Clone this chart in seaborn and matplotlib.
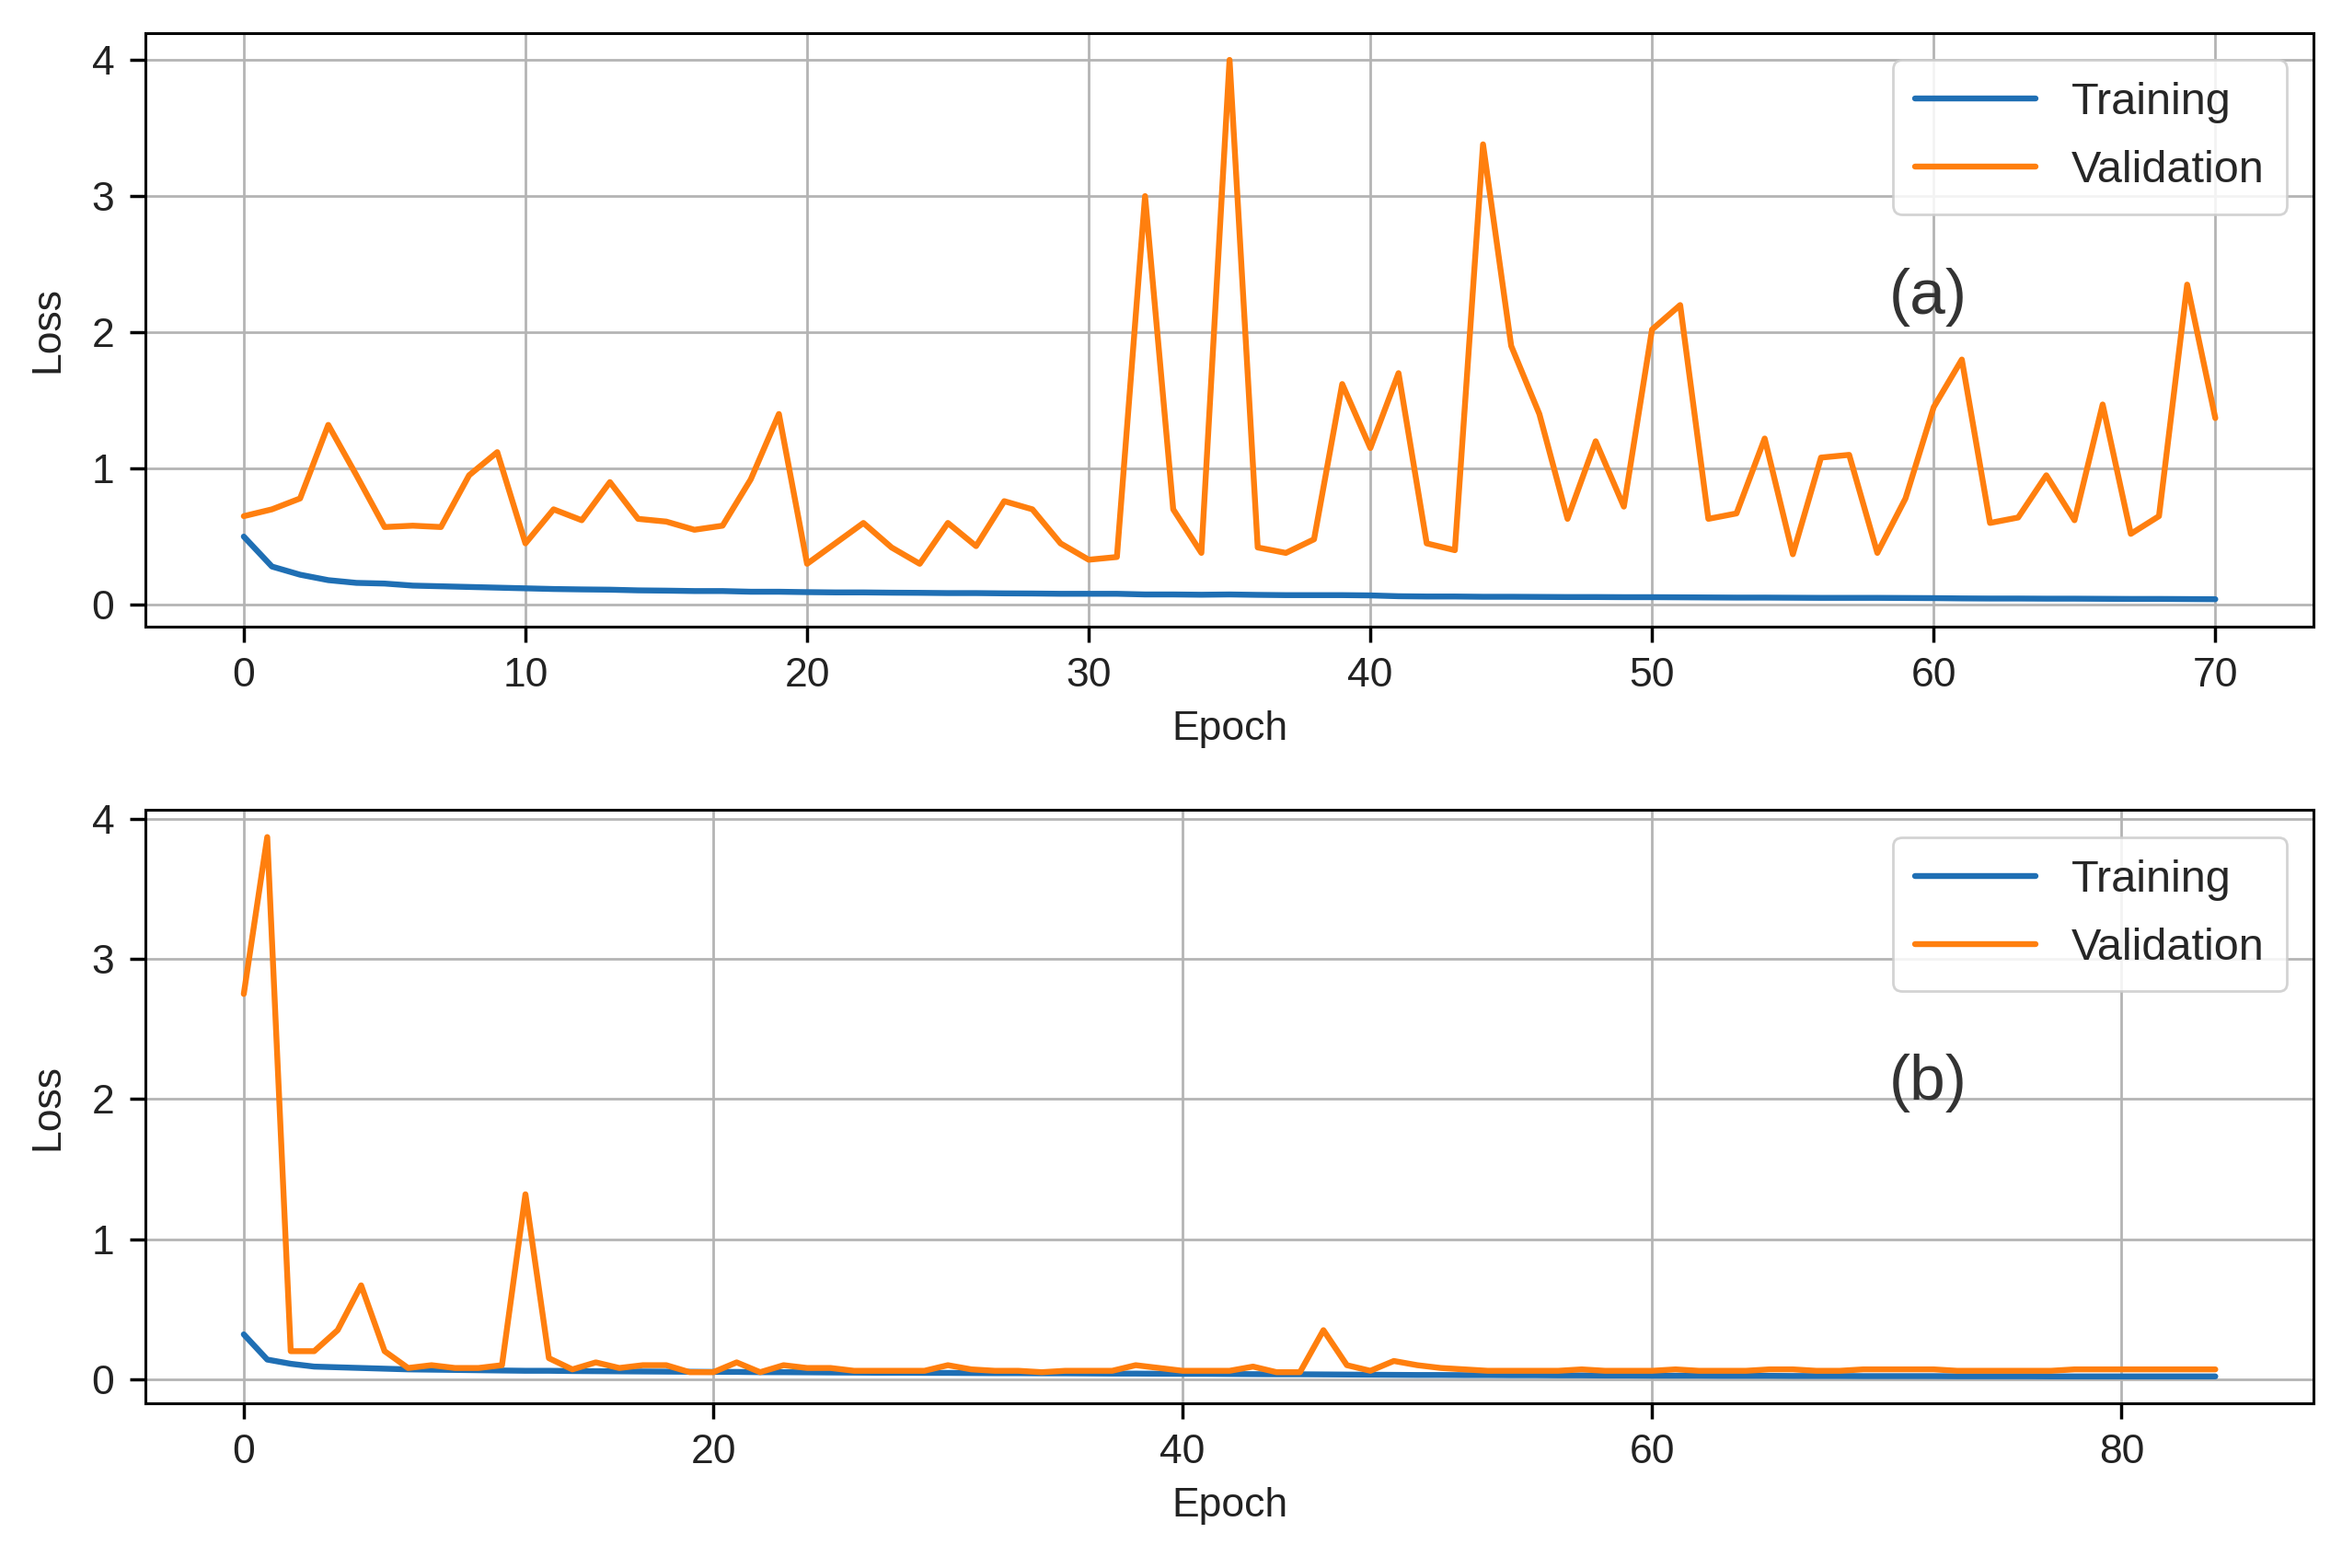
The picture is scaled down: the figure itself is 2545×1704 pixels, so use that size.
import numpy as np
import pandas as pd
import matplotlib
matplotlib.use("Agg")
import matplotlib.pyplot as plt
import seaborn as sns

# panel (a): 71 epochs
train_a = [0.50, 0.28, 0.22, 0.18, 0.16, 0.155, 0.14, 0.135, 0.13, 0.125,
           0.12, 0.115, 0.112, 0.11, 0.105, 0.103, 0.10, 0.10, 0.095, 0.095,
           0.092, 0.09, 0.09, 0.088, 0.087, 0.085, 0.085, 0.083, 0.082, 0.08,
           0.08, 0.08, 0.075, 0.075, 0.073, 0.075, 0.072, 0.07, 0.07, 0.07,
           0.068, 0.062, 0.06, 0.06, 0.058, 0.058, 0.057, 0.056, 0.056, 0.055,
           0.055, 0.054, 0.053, 0.052, 0.052, 0.051, 0.05, 0.05, 0.05, 0.049,
           0.048, 0.046, 0.045, 0.045, 0.044, 0.044, 0.043, 0.042, 0.042, 0.041,
           0.04]
val_a = [0.65, 0.70, 0.78, 1.32, 0.95, 0.57, 0.58, 0.57, 0.95, 1.12,
         0.45, 0.70, 0.62, 0.90, 0.63, 0.61, 0.55, 0.58, 0.92, 1.40,
         0.30, 0.45, 0.60, 0.42, 0.30, 0.60, 0.43, 0.76, 0.70, 0.45,
         0.33, 0.35, 3.00, 0.70, 0.38, 4.00, 0.42, 0.38, 0.48, 1.62,
         1.15, 1.70, 0.45, 0.40, 3.38, 1.90, 1.40, 0.63, 1.20, 0.72,
         2.02, 2.20, 0.63, 0.67, 1.22, 0.37, 1.08, 1.10, 0.38, 0.78,
         1.45, 1.80, 0.60, 0.64, 0.95, 0.62, 1.47, 0.52, 0.65, 2.35,
         1.37]

# panel (b): 85 epochs
train_b = [0.32, 0.14, 0.11, 0.09, 0.085, 0.08, 0.075, 0.07, 0.068, 0.066,
           0.064, 0.062, 0.06, 0.06, 0.058, 0.057, 0.056, 0.055, 0.054, 0.053,
           0.052, 0.052, 0.05, 0.05, 0.049, 0.048, 0.047, 0.046, 0.046, 0.045,
           0.045, 0.044, 0.043, 0.043, 0.042, 0.042, 0.041, 0.04, 0.04, 0.039,
           0.038, 0.038, 0.037, 0.036, 0.035, 0.035, 0.034, 0.033, 0.032, 0.031,
           0.03, 0.03, 0.029, 0.029, 0.028, 0.028, 0.027, 0.027, 0.026, 0.026,
           0.025, 0.025, 0.025, 0.024, 0.024, 0.024, 0.023, 0.023, 0.023, 0.022,
           0.022, 0.022, 0.022, 0.021, 0.021, 0.021, 0.021, 0.02, 0.02, 0.02,
           0.02, 0.02, 0.02, 0.02, 0.02]
val_b = [2.75, 3.87, 0.20, 0.20, 0.35, 0.67, 0.20, 0.08, 0.10, 0.08,
         0.08, 0.10, 1.32, 0.15, 0.07, 0.12, 0.08, 0.10, 0.10, 0.05,
         0.05, 0.12, 0.05, 0.10, 0.08, 0.08, 0.06, 0.06, 0.06, 0.06,
         0.10, 0.07, 0.06, 0.06, 0.05, 0.06, 0.06, 0.06, 0.10, 0.08,
         0.06, 0.06, 0.06, 0.09, 0.05, 0.05, 0.35, 0.10, 0.06, 0.13,
         0.10, 0.08, 0.07, 0.06, 0.06, 0.06, 0.06, 0.07, 0.06, 0.06,
         0.06, 0.07, 0.06, 0.06, 0.06, 0.07, 0.07, 0.06, 0.06, 0.07,
         0.07, 0.07, 0.07, 0.06, 0.06, 0.06, 0.06, 0.06, 0.07, 0.07,
         0.07, 0.07, 0.07, 0.07, 0.07]

PANELS = [("(a)", train_a, val_a), ("(b)", train_b, val_b)]


def long_form(train, val):
    epochs = np.arange(len(train))
    return pd.DataFrame({
        "Epoch": np.concatenate([epochs, epochs]),
        "Loss": np.concatenate([train, val]),
        "Series": ["Training"] * len(train) + ["Validation"] * len(val),
    })


sns.set_theme(style="ticks")
plt.rcParams["font.family"] = ["Liberation Sans", "DejaVu Sans"]

fig, axes = plt.subplots(2, 1, figsize=(12.725, 8.52), dpi=200)
fig.subplots_adjust(left=0.062, right=0.988, top=0.979, bottom=0.105, hspace=0.31)

for ax, (tag, train, val) in zip(axes, PANELS):
    df = long_form(train, val)
    sns.lineplot(data=df, x="Epoch", y="Loss", hue="Series", ax=ax,
                 palette=["#1f6fb4", "#ff7f0e"], linewidth=2.3)
    ax.grid(True, color="#b4b4b4", linewidth=1.0)
    ax.set_axisbelow(True)
    for s in ax.spines.values():
        s.set_color("black")
        s.set_linewidth(1.1)
    ax.tick_params(labelsize=16, length=6, pad=6, color="black",
                   labelcolor="#222222")
    ax.set_xlabel("Epoch", fontsize=16, color="#222222", labelpad=6)
    ax.set_ylabel("Loss", fontsize=16, color="#222222", labelpad=10)
    ax.set_yticks([0, 1, 2, 3, 4])
    leg = ax.legend(loc="upper right", fontsize=17.5, handlelength=2.7,
                    frameon=True, fancybox=True, framealpha=0.85,
                    borderpad=0.5, labelspacing=0.6, borderaxespad=0.6)
    leg.get_frame().set_edgecolor("#cccccc")
    ax.text(0.822, 0.555 if tag == "(a)" else 0.54, tag, transform=ax.transAxes,
            fontsize=25, color="#333333", ha="center", va="center")

axes[1].set_xticks([0, 20, 40, 60, 80])

fig.savefig("out.png", dpi=200)
